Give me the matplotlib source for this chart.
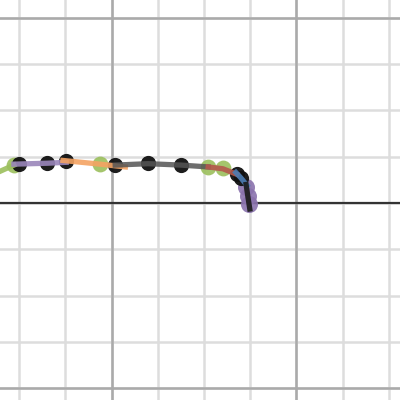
import numpy as np
import matplotlib.pyplot as plt

# point data (grid units: one minor square = 1)
pt_x = [1.89, 2.00, 2.61, 3.02, 3.75, 4.08, 4.79, 5.50, 6.09, 6.41, 6.71, 6.80, 6.91, 6.95, 6.97]
pt_y = [0.82, 0.84, 0.87, 0.91, 0.84, 0.82, 0.87, 0.82, 0.78, 0.76, 0.63, 0.53, 0.35, 0.15, -0.02]
pt_kind = ['g', 'k', 'k', 'k', 'g', 'k', 'k', 'k', 'g', 'g', 'k', 'k', 'p', 'p', 'p']

# connecting curves, each a short polyline with its own colour
green_x, green_y = [1.40, 1.89], [0.60, 0.82]
purple_x, purple_y = [1.89, 2.61, 3.02], [0.84, 0.86, 0.88]
orange_x, orange_y = [2.95, 3.75, 4.30], [0.92, 0.84, 0.78]
grey_x, grey_y = [4.08, 4.79, 5.50, 6.09], [0.82, 0.85, 0.82, 0.78]
red_x, red_y = [6.09, 6.41, 6.71], [0.78, 0.74, 0.62]
blue_x, blue_y = [6.69, 6.80, 6.93], [0.66, 0.54, 0.38]
black_x, black_y = [6.91, 6.95, 6.99], [0.40, 0.13, -0.13]

point_colors = {'g': '#9bbf5c', 'k': '#111111', 'p': '#8a72ad'}
point_sizes = {'g': 130, 'k': 120, 'p': 150}

fig = plt.figure(figsize=(4, 4), dpi=100)
ax = fig.add_axes([0, 0, 1, 1])

ax.set_xlim(1.589, 10.238)
ax.set_ylim(-4.259, 4.389)

# minor grid
for v in np.arange(2, 11):
    ax.axvline(v, color='#dddddd', lw=1.8, zorder=0)
for v in np.arange(-4, 5):
    ax.axhline(v, color='#dddddd', lw=1.8, zorder=0)
# major grid
for v in [4, 8]:
    ax.axvline(v, color='#aaaaaa', lw=1.8, zorder=0.5)
for v in [-4, 4]:
    ax.axhline(v, color='#aaaaaa', lw=1.8, zorder=0.5)
ax.axhline(0, color='#333333', lw=1.6, zorder=1)

for k in ['g', 'p', 'k']:
    xs = [x for x, kk in zip(pt_x, pt_kind) if kk == k]
    ys = [y for y, kk in zip(pt_y, pt_kind) if kk == k]
    ax.scatter(xs, ys, s=point_sizes[k], color=point_colors[k],
               alpha=0.95 if k == 'k' else 0.9, linewidths=0, zorder=2)

ax.plot(green_x, green_y, color='#9bbf5c', lw=3.8, alpha=0.9, zorder=3)
ax.plot(purple_x, purple_y, color='#9a86bb', lw=3.8, alpha=0.9, zorder=3)
ax.plot(orange_x, orange_y, color='#f4a363', lw=3.8, alpha=0.9, zorder=3)
ax.plot(grey_x, grey_y, color='#555555', lw=3.8, alpha=0.85, zorder=3)
ax.plot(red_x, red_y, color='#b5584c', lw=3.8, alpha=0.9, zorder=3)
ax.plot(blue_x, blue_y, color='#4c7db4', lw=3.8, alpha=0.9, zorder=3)
ax.plot(black_x, black_y, color='#1a1a1a', lw=3.8, alpha=0.9, zorder=3)

ax.set_axis_off()
fig.savefig('out.png', dpi=100)
